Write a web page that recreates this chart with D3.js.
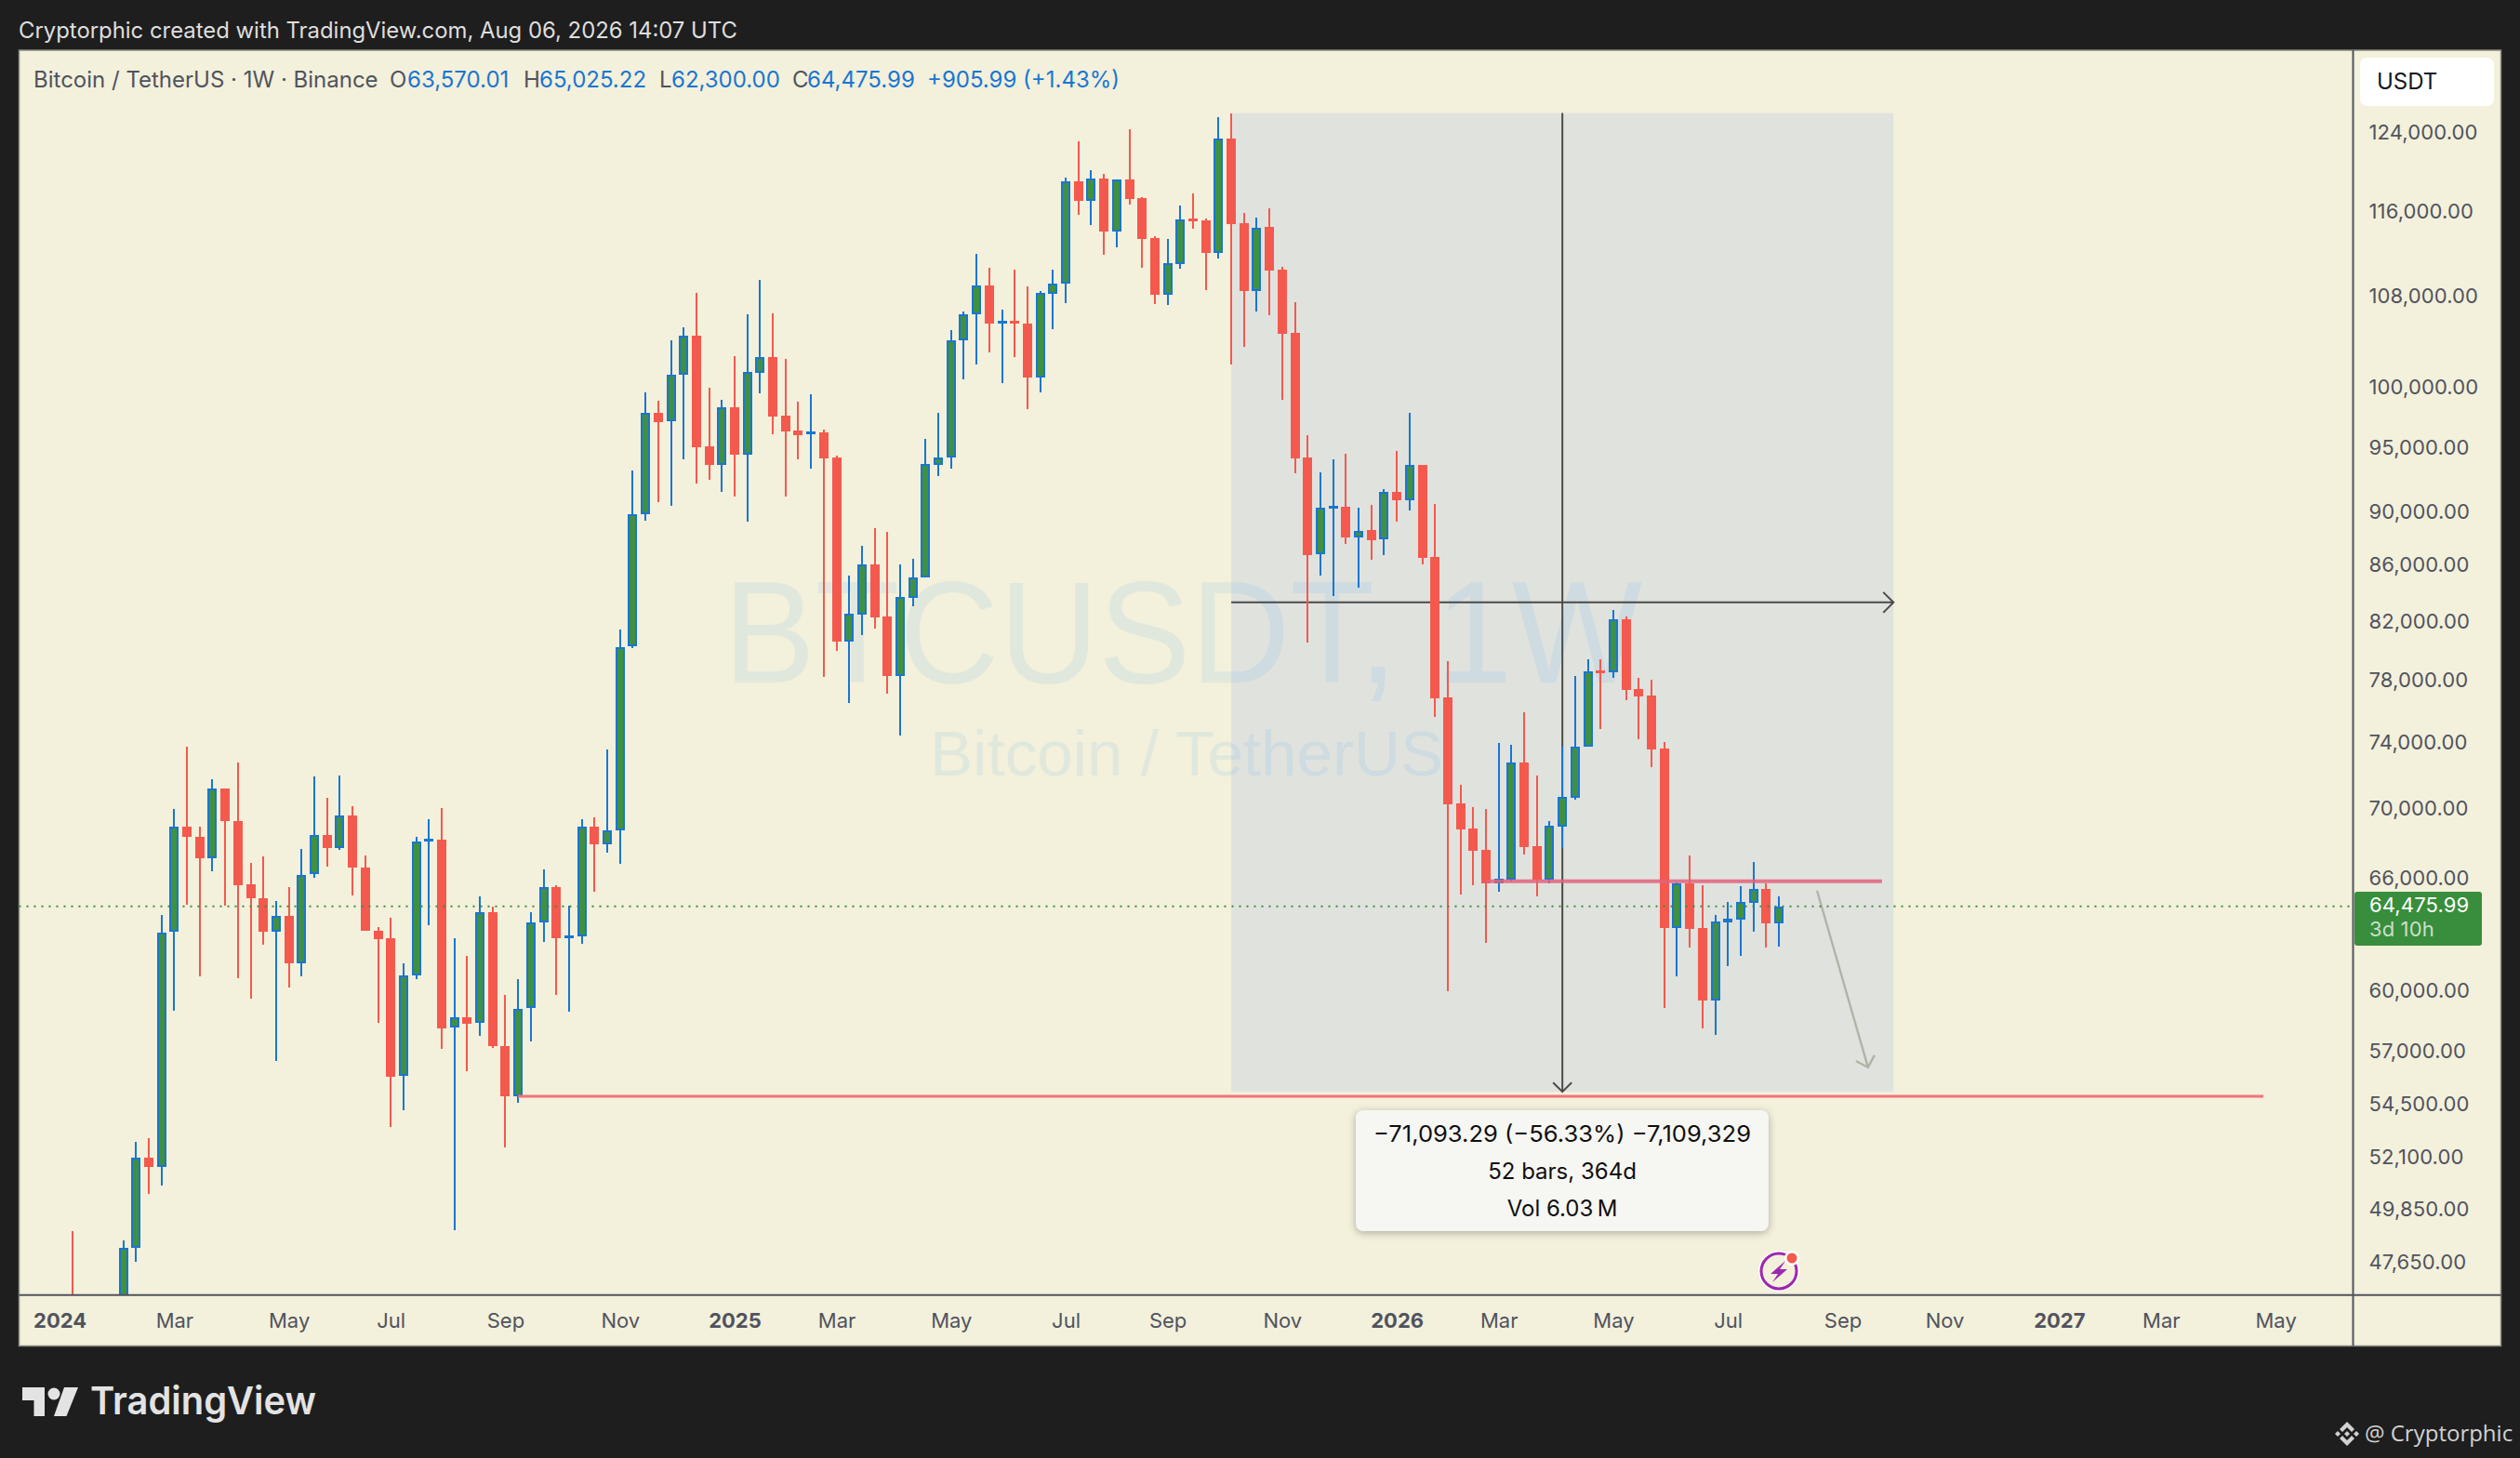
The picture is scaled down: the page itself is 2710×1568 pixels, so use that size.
<!DOCTYPE html>
<html lang="en">
<head>
    <meta charset="UTF-8">
    <title>Bitcoin / TetherUS 1W</title>
    <script src="https://d3js.org/d3.v7.min.js"></script>
    <style>
        html, body { margin: 0; background: #1e1e1e; }
        svg { display: block; font-family: Inter, sans-serif; }
        .axis path, .axis line { display: none; }
        .axis text { fill: #50535e; font-family: Inter, sans-serif; font-size: 22px; }
        .price-axis text, .tag { letter-spacing: 0.12px; }
    </style>
</head>
<body>
    <svg width="2710" height="1568"></svg>

    <script>
        // weekly bars (first four sit under the pane)
        const opens = [44000,42800,41700,42000,
            42580,48300,52120,51720,63090,68960,68360,67180,71250,69320,65670,64930,63090,63980,61460,66250,
            68510,67760,69650,66650,63170,62760,55840,60790,68240,68240,58180,58710,58400,64170,57300,54880,
            59150,63590,65560,62840,62840,68990,67970,68780,80340,89840,97890,97200,101100,104500,95150,93710,
            98350,94530,101310,102620,97680,96460,96280,96310,94280,80690,82560,86100,82410,78360,83740,85150,
            93710,94260,104090,106400,109030,105710,105820,105600,100910,108320,109210,119080,117190,119360,114190,119270,
            117410,113500,108240,111080,115420,115240,112140,123470,114970,108590,114590,110520,104770,94280,86840,90360,
            90420,88130,88660,87950,91570,90960,93690,86660,76930,70350,68850,67630,65760,65970,72830,67830,
            65970,68990,70700,73790,78730,78580,82210,77500,77070,73690,63320,65740,63300,59550,63600,63770,
            64680,65410,63570.01];
        const highs = [48980,43570,42840,43880,
            48590,52810,52970,64000,70020,73810,68990,71810,71250,72820,66880,67260,64760,65530,67680,71970,
            70690,72030,70170,67320,63340,63860,61430,68360,69410,70080,62760,61810,65020,64480,59820,60610,
            64140,66510,65640,64510,69410,69530,73650,81480,93250,99620,98920,104110,105270,108380,100020,99000,
            102730,106430,109580,106520,102490,98840,99470,96530,94430,85310,87490,88810,88530,86120,86530,95780,
            97910,105020,106680,112020,110710,106850,110530,108980,108520,110530,119490,123220,120250,119870,119270,124480,
            117530,113710,113440,116700,117900,115420,125760,126200,115970,115520,116420,110790,107530,96090,93100,94120,
            94580,90360,90580,91800,94820,97900,93690,90640,79350,71460,70130,70020,74040,73920,75990,72030,
            69300,73790,78360,79480,79480,82860,82410,78230,78110,74100,65790,67310,65640,64010,64710,65590,
            66940,65740,65025.22];
        const lows = [41500,40280,38500,41880,
            42260,47710,50540,50890,59020,64560,60770,66420,64510,60660,59610,62410,56550,60190,60770,66040,
            66680,67620,65070,63140,58400,53480,54260,60610,63450,57150,49020,56060,57770,57200,52560,54590,
            57500,62570,59820,58970,62460,65270,67470,66830,80250,89370,90790,90500,94130,92230,92520,91570,
            91210,89300,99540,96160,91210,94130,93390,78300,80040,76590,81120,81570,77190,74530,83120,85150,
            92810,93390,100730,102000,103050,100410,102650,98220,99620,105100,107440,115790,114790,111930,112640,116790,
            110710,107360,107270,110620,114430,108630,111580,102000,103540,106700,106360,99000,93030,80610,85300,83840,
            87640,84430,86480,86810,89290,90140,86110,75690,60000,65120,65640,62510,65280,65850,67370,65020,
            65740,67740,70570,73790,74920,78230,76770,74270,72540,59160,60770,62270,58140,57820,61290,61830,
            63110,62270,62300];
        const closes = [41700,41700,42030,42580,
            48300,52120,51720,63060,68960,68360,67150,71250,69290,65640,64900,63090,63980,61430,66220,68510,
            67760,69650,66620,63140,62710,55820,60790,68120,68300,58150,58710,58380,64170,57270,54880,59120,
            63590,65560,62760,62900,68990,67970,68780,80320,89840,97890,97170,101100,104500,95130,93690,98350,
            94530,101340,102620,97600,96410,96080,96360,94230,80670,82580,86100,82340,78360,83760,85150,93740,
            94260,104090,106400,109030,105600,105820,105710,100910,108350,109210,119080,117160,119360,114160,119270,117350,
            113440,108210,111110,115300,115240,112110,123470,114910,108580,114550,110440,104690,94220,86810,90330,90490,
            88100,88630,87920,91540,90930,93660,86600,76900,70290,68830,67580,65740,65980,72810,67790,65950,
            69010,70720,73790,78650,78630,82190,77440,77010,73630,63300,65720,63250,59530,63640,63800,64700,
            65410,63550,64475.99];

        const priceTicks = [124000,116000,108000,100000,95000,90000,86000,82000,78000,74000,70000,66000,60000,57000,54500,52100,49850,47650];
        const timeTickBars = [-1,8,17,25,34,43,52,60,69,78,86,95,104,112,121,130,139,147,156,164,173];
        const timeTickLabels = ["2024","Mar","May","Jul","Sep","Nov","2025","Mar","May","Jul","Sep","Nov","2026","Mar","May","Jul","Sep","Nov","2027","Mar","May"];

        // drawings: [bar, price]
        const lastPrice = 64475.99;
        const measureBars = [91, 143];
        const measurePrices = [126199.3, 55106.01];
        const measureMidBar = 117;
        const measureMidPrice = 83395;
        const resistanceLine = [[111, 65860], [142.1, 65860]];
        const supportLine = [[35, 54900], [172.05, 54900]];
        const forecastArrow = [[137, 65330], [141, 56256]];

        const bg = "#f3f0db", red = "#f4594e", green = "#40913f", blue = "#1976d2", ink = "#4a4a48";

        const pane = { left: 20.5, right: 2530.5, top: 54, bottom: 1392.7 };

        const x = d3.scaleLinear().domain([4, 134]).range([132.6, 1913]);
        const y = d3.scaleLog().domain([46397.09, 133097.55]).range([pane.bottom, pane.top]);

        const svg = d3.select("svg");

        // header
        svg.append("text").attr("x", 20).attr("y", 41).attr("fill", "#dedede").style("font-size", "24px")
            .attr("textLength", 773).attr("lengthAdjust", "spacingAndGlyphs")
            .text("Cryptorphic created with TradingView.com, Aug 06, 2026 14:07 UTC");

        // chart frame
        svg.append("rect").attr("x", pane.left).attr("y", pane.top).attr("width", 2689.5 - pane.left).attr("height", 1447.5 - pane.top)
            .attr("fill", bg).attr("stroke", "#8a8a82").attr("stroke-width", 1.5);

        svg.append("clipPath").attr("id", "pane").append("rect")
            .attr("x", pane.left).attr("y", pane.top).attr("width", pane.right - pane.left).attr("height", pane.bottom - pane.top);
        const plot = svg.append("g").attr("clip-path", "url(#pane)");

        // measure tool background
        plot.append("rect")
            .attr("x", x(measureBars[0])).attr("y", y(measurePrices[0]))
            .attr("width", x(measureBars[1]) - x(measureBars[0]))
            .attr("height", y(measurePrices[1]) - y(measurePrices[0]))
            .attr("fill", "#e0e2de");

        // watermark
        const wm = plot.append("g").attr("fill", "#2196f3").attr("fill-opacity", 0.09).style("font-family", "'Liberation Sans', sans-serif");
        wm.append("text").attr("x", 778).attr("y", 734).attr("textLength", 988).attr("lengthAdjust", "spacingAndGlyphs")
            .style("font-size", "156px").text("BTCUSDT, 1W");
        wm.append("text").attr("x", 1000).attr("y", 834).attr("textLength", 552).attr("lengthAdjust", "spacingAndGlyphs")
            .style("font-size", "69px").text("Bitcoin / TetherUS");

        // measure arrows
        const midX = x(measureMidBar), midY = y(measureMidPrice), tipX = x(measureBars[1]), tipY = y(measurePrices[1]);
        const measure = plot.append("g").attr("fill", "none").attr("stroke", ink).attr("stroke-width", 2);
        measure.append("path").attr("d", `M${x(measureBars[0])},${midY}H${tipX}M${tipX - 11},${midY - 11}L${tipX},${midY}L${tipX - 11},${midY + 11}`);
        measure.append("path").attr("d", `M${midX},${y(measurePrices[0])}V${tipY}M${midX - 10},${tipY - 10}L${midX},${tipY}L${midX + 10},${tipY - 10}`);

        // candles
        const bars = d3.range(opens.length);
        const candle = plot.append("g").style("shape-rendering", "crispEdges")
            .selectAll("g").data(bars).enter().append("g")
            .attr("transform", i => "translate(" + Math.round(x(i)) + ",0)");
        candle.append("rect")
            .attr("x", -1).attr("width", 2)
            .attr("y", i => y(highs[i]))
            .attr("height", i => y(lows[i]) - y(highs[i]))
            .attr("fill", i => closes[i] >= opens[i] ? blue : red);
        candle.append("rect")
            .attr("x", -4).attr("width", 8)
            .attr("y", i => Math.round(y(Math.max(opens[i], closes[i]))) + 1)
            .attr("height", i => Math.max(Math.round(y(Math.min(opens[i], closes[i]))) - Math.round(y(Math.max(opens[i], closes[i]))) - 2, 0.5))
            .attr("fill", i => closes[i] >= opens[i] ? green : red)
            .attr("stroke", i => closes[i] >= opens[i] ? blue : red)
            .attr("stroke-width", 2);

        // levels
        const priceLine = d3.line().x(d => x(d[0])).y(d => y(d[1]));
        plot.append("path").attr("d", priceLine(resistanceLine)).attr("stroke", "#e2637b").attr("stroke-opacity", 0.85).attr("stroke-width", 4);
        plot.append("path").attr("d", priceLine(supportLine)).attr("stroke", "#f3717a").attr("stroke-width", 3);
        plot.append("path").attr("d", priceLine(forecastArrow)).attr("stroke", "#b2b3a8").attr("stroke-width", 2.4).attr("fill", "none");
        const [ax, ay] = [x(forecastArrow[1][0]), y(forecastArrow[1][1])];
        plot.append("path").attr("d", `M${ax - 13},${ay - 7}L${ax},${ay}L${ax + 7},${ay - 13}`).attr("stroke", "#b2b3a8").attr("stroke-width", 2.4).attr("fill", "none");

        // last price line
        plot.append("line").attr("x1", pane.left).attr("x2", pane.right).attr("y1", y(lastPrice)).attr("y2", y(lastPrice))
            .attr("stroke", "#388e3c").attr("stroke-width", 2).attr("stroke-dasharray", "2 6");

        // measure label
        const labelX = 1680;
        svg.append("rect").attr("x", 1458).attr("y", 1194).attr("width", 444).attr("height", 130).attr("rx", 8)
            .attr("fill", "#f6f6f3").style("filter", "drop-shadow(0 2px 4px rgba(0,0,0,.28))");
        const labelLines = ["\u221271,093.29 (\u221256.33%) \u22127,109,329", "52 bars, 364d", "Vol 6.03\u2009M"];
        svg.selectAll(".measure-label").data(labelLines).enter().append("text").attr("class", "measure-label")
            .attr("x", labelX).attr("y", (d, i) => 1227.5 + i * 40).attr("text-anchor", "middle").attr("fill", "#0f0f0f")
            .style("font-size", "24px")
            .each(function(d, i) { if (i === 0) d3.select(this).attr("textLength", 406).attr("lengthAdjust", "spacingAndGlyphs"); })
            .text(d => d);

        // legend
        const legend = svg.append("text").attr("y", 94).style("font-size", "24px");
        const legendParts = [[36, "Bitcoin / TetherUS \u00b7 1W \u00b7 Binance", "#50535e"], [419, "O", "#50535e"], [438, "63,570.01", blue],
            [563, "H", "#50535e"], [580, "65,025.22", blue], [709, "L", "#50535e"], [722, "62,300.00", blue],
            [852, "C", "#50535e"], [868, "64,475.99", blue], [997, "+905.99 (+1.43%)", blue]];
        legendParts.forEach(p => legend.append("tspan").attr("x", p[0]).attr("fill", p[2]).text(p[1]));

        // price axis
        svg.append("line").attr("x1", pane.right).attr("x2", pane.right).attr("y1", pane.top).attr("y2", 1447.5).attr("stroke", "#50535e").attr("stroke-width", 2);
        svg.append("line").attr("x1", pane.left).attr("x2", 2689.5).attr("y1", pane.bottom).attr("y2", pane.bottom).attr("stroke", "#50535e").attr("stroke-width", 2);
        svg.append("g").attr("class", "axis price-axis")
            .attr("transform", "translate(" + pane.right + ",-1)")
            .call(d3.axisRight(y).tickValues(priceTicks).tickSize(0).tickPadding(17).tickFormat(d3.format(",.2f")));

        // time axis
        svg.append("g").attr("class", "axis time-axis")
            .attr("transform", "translate(0," + pane.bottom + ")")
            .call(d3.axisBottom(x).tickValues(timeTickBars).tickSize(0).tickPadding(20).tickFormat(d => timeTickLabels[timeTickBars.indexOf(d)]))
            .selectAll(".tick text")
            .style("font-weight", d => +timeTickLabels[timeTickBars.indexOf(d)] ? 700 : 400);

        // currency button
        svg.append("rect").attr("x", 2538).attr("y", 62).attr("width", 144).attr("height", 52).attr("rx", 7).attr("fill", "#fff");
        svg.append("text").attr("x", 2556).attr("y", 96).attr("fill", "#131722").style("font-size", "24px").text("USDT");

        // last price tag
        svg.append("rect").attr("x", 2532).attr("y", 959).attr("width", 137).attr("height", 58).attr("rx", 3).attr("fill", "#388e3c");
        svg.append("text").attr("class", "tag").attr("x", 2548).attr("y", 981).attr("fill", "#fff").style("font-size", "22px").text(d3.format(",.2f")(lastPrice));
        svg.append("text").attr("class", "tag").attr("x", 2548).attr("y", 1007).attr("fill", "#c9dfca").style("font-size", "22px").text("3d 10h");

        // lightning badge
        const badge = svg.append("g").attr("transform", "translate(1913,1367)");
        badge.append("circle").attr("r", 22).attr("fill", "#fff");
        badge.append("circle").attr("r", 19).attr("fill", bg).attr("stroke", "#9c27b0").attr("stroke-width", 3);
        badge.append("path").attr("d", "M7,-11L-9,3H-1L-7,12L9,-2H1Z").attr("fill", "#9c27b0");
        badge.append("circle").attr("cx", 14).attr("cy", -14).attr("r", 8).attr("fill", "#fff");
        badge.append("circle").attr("cx", 14).attr("cy", -14).attr("r", 5.5).attr("fill", red);

        // footer logo
        const logo = svg.append("g").attr("fill", "#e3e3e3");
        logo.append("path").attr("d", "M24,1492H48V1523H36.5V1506H24Z");
        logo.append("circle").attr("cx", 58).attr("cy", 1499).attr("r", 6.5);
        logo.append("path").attr("d", "M69,1492H84L71.5,1523H58Z");
        svg.append("text").attr("x", 97).attr("y", 1521).attr("fill", "#e3e3e3").style("font-size", "41px").style("font-weight", 600)
            .attr("textLength", 243).attr("lengthAdjust", "spacingAndGlyphs").text("TradingView");

        // footer signature
        const mark = svg.append("g").attr("transform", "translate(2524,1542)").attr("fill", "#d2d2d2");
        mark.append("path").attr("d", "M0,-13L8,-5L5,-2L0,-7L-5,-2L-8,-5Z");
        mark.append("path").attr("d", "M0,13L8,5L5,2L0,7L-5,2L-8,5Z");
        mark.append("path").attr("d", "M0,-3L3,0L0,3L-3,0Z");
        mark.append("path").attr("d", "M-13,0L-10,-3L-7,0L-10,3Z");
        mark.append("path").attr("d", "M13,0L10,-3L7,0L10,3Z");
        svg.append("text").attr("x", 2543).attr("y", 1550).attr("fill", "#d2d2d2").style("font-family", "'Open Sans', sans-serif").style("font-size", "24px").text("@ Cryptorphic");
    </script>
</body>
</html>
